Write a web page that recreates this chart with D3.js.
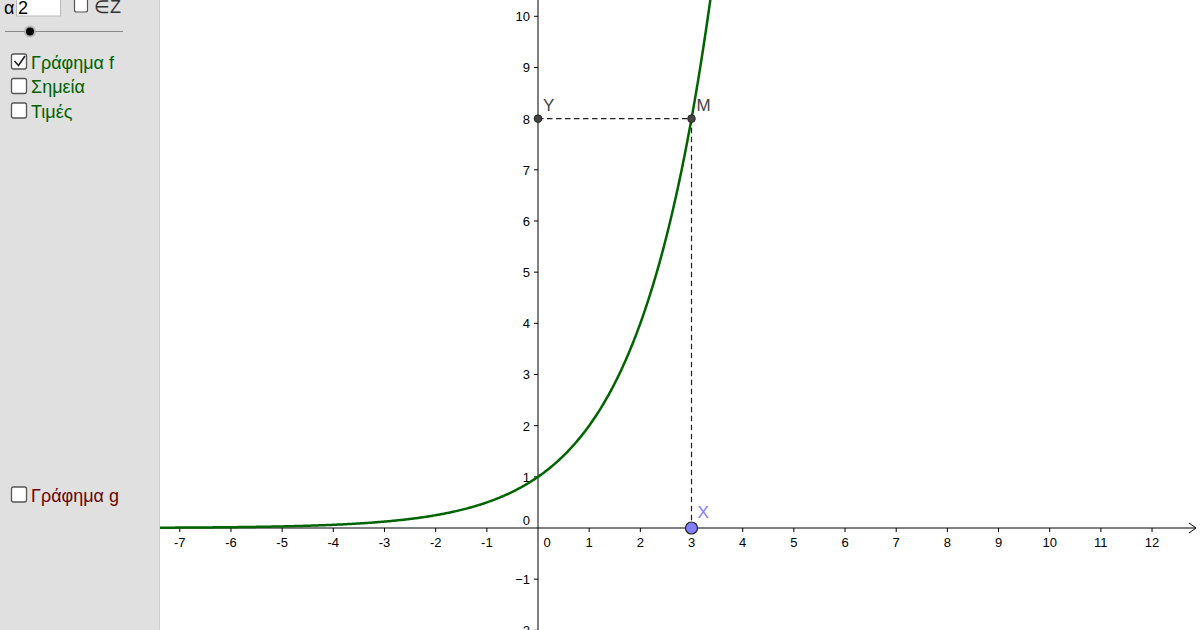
<!DOCTYPE html>
<html><head><meta charset="utf-8">
<script src="https://cdn.jsdelivr.net/npm/d3@7"></script>
<style>
html,body{margin:0;padding:0;background:#fff;}
svg{display:block;font-family:"Liberation Sans",Arial,sans-serif;}
</style></head>
<body>
<svg id="c" width="1200" height="630"></svg>
<script>
// ---- data ----
const alphaValue = 2;
const pointXValue = 3;
const xTicks = [-7,-6,-5,-4,-3,-2,-1,0,1,2,3,4,5,6,7,8,9,10,11,12];
const yTicks = [-2,-1,0,1,2,3,4,5,6,7,8,9,10];
const checkboxLabels = ["Γράφημα f","Σημεία","Τιμές"];
const checkboxChecked = [true,false,false];
const checkboxG = "Γράφημα g";
const curveSamplesX = d3.range(-7.6, 3.6, 0.02);

// ---- layout ----
const W = 1200, H = 630, panelW = 160;
const unit = 51.17;
const x0px = 538, y0px = 528;
const x = d3.scaleLinear().domain([0,1]).range([x0px, x0px+unit]);
const y = d3.scaleLinear().domain([0,1]).range([y0px, y0px-unit]);

const svg = d3.select("#c");
svg.append("rect").attr("width",W).attr("height",H).attr("fill","#fff");

const plot = svg.append("g");
plot.append("defs").append("clipPath").attr("id","clip")
  .append("rect").attr("x",panelW).attr("y",0).attr("width",W-panelW).attr("height",H);
const g = plot.append("g").attr("clip-path","url(#clip)");

// axes
g.append("line").attr("x1",panelW).attr("x2",1196).attr("y1",y0px).attr("y2",y0px)
  .attr("stroke","#000").attr("stroke-width",1);
g.append("path").attr("d",`M${1189},${y0px-5} L${1196},${y0px} L${1189},${y0px+5}`)
  .attr("fill","none").attr("stroke","#000").attr("stroke-width",1);
g.append("line").attr("x1",x0px).attr("x2",x0px).attr("y1",0).attr("y2",H)
  .attr("stroke","#000").attr("stroke-width",1);

// x ticks
xTicks.forEach(t=>{
  if(t!==0) g.append("line").attr("x1",x(t)).attr("x2",x(t)).attr("y1",y0px).attr("y2",y0px+4)
    .attr("stroke","#000");
  g.append("text").attr("x", t===0 ? x(t)+9 : x(t)).attr("y", y0px+19)
    .attr("text-anchor","middle").attr("font-size",13).attr("fill","#000")
    .text(t<0 ? "-"+Math.abs(t) : t);
});
// y ticks
yTicks.forEach(t=>{
  if(t!==0) g.append("line").attr("x1",x0px-4).attr("x2",x0px).attr("y1",y(t)).attr("y2",y(t))
    .attr("stroke","#000");
  g.append("text").attr("x", x0px-8).attr("y", t===0 ? y(t)-3 : y(t)+5)
    .attr("text-anchor","end").attr("font-size",13).attr("fill","#000")
    .text(t<0 ? "\u2212"+Math.abs(t) : t);
});

// curve
const line = d3.line().x(d=>x(d)).y(d=>y(Math.pow(alphaValue,d)));
g.append("path").datum(curveSamplesX).attr("d",line)
  .attr("fill","none").attr("stroke","#006400").attr("stroke-width",2.5);

// dashed guides
const mY = Math.pow(alphaValue, pointXValue);
g.append("line").attr("x1",x(0)).attr("x2",x(pointXValue)).attr("y1",y(mY)).attr("y2",y(mY))
  .attr("stroke","#222").attr("stroke-width",1.2).attr("stroke-dasharray","5.5,3.5");
g.append("line").attr("x1",x(pointXValue)).attr("x2",x(pointXValue)).attr("y1",y(mY)).attr("y2",y(0))
  .attr("stroke","#222").attr("stroke-width",1.2).attr("stroke-dasharray","5.5,3.5");

// points
[[0,mY,"Y"],[pointXValue,mY,"M"]].forEach(p=>{
  g.append("circle").attr("cx",x(p[0])).attr("cy",y(p[1])).attr("r",3.8)
    .attr("fill","#444").attr("stroke","#222").attr("stroke-width",1);
  g.append("text").attr("x",x(p[0])+5).attr("y",y(p[1])-8).attr("font-size",17)
    .attr("fill","#444").text(p[2]);
});
g.append("circle").attr("cx",x(pointXValue)).attr("cy",y(0)).attr("r",6)
  .attr("fill","#7f7fff").attr("stroke","#222").attr("stroke-width",1.2);
g.append("text").attr("x",x(pointXValue)+6).attr("y",y(0)-10).attr("font-size",17)
  .attr("fill","#7f7fff").text("X");

// ---- left panel ----
const p = svg.append("g");
p.append("rect").attr("x",0).attr("y",0).attr("width",panelW).attr("height",H).attr("fill","#e0e0e0");
p.append("line").attr("x1",panelW-0.5).attr("x2",panelW-0.5).attr("y1",0).attr("y2",H)
  .attr("stroke","#d0d0d0");
p.append("text").attr("x",4).attr("y",14).attr("font-size",18).attr("fill","#000").text("α");
p.append("rect").attr("x",16.5).attr("y",-3).attr("width",44).attr("height",19)
  .attr("fill","#fff").attr("stroke","#bbb");
p.append("text").attr("x",18).attr("y",14).attr("font-size",18).attr("fill","#000").text(alphaValue);
p.append("rect").attr("x",74.5).attr("y",-3).attr("width",13).attr("height",15).attr("rx",2)
  .attr("fill","#fff").attr("stroke","#555").attr("stroke-width",1.2);
p.append("text").attr("x",94).attr("y",13).attr("font-size",18).attr("fill","#333").text("∈Z");
// slider
p.append("line").attr("x1",5).attr("x2",123).attr("y1",31.5).attr("y2",31.5)
  .attr("stroke","#888").attr("stroke-width",1);
p.append("circle").attr("cx",30).attr("cy",31.5).attr("r",6).attr("fill","#aaa").attr("opacity",0.8);
p.append("circle").attr("cx",30).attr("cy",31.5).attr("r",4).attr("fill","#000");

function checkbox(cy, label, checked, color){
  p.append("rect").attr("x",11.5).attr("y",cy-8).attr("width",15).attr("height",15).attr("rx",2)
    .attr("fill","#fff").attr("stroke","#555").attr("stroke-width",1.3);
  if(checked) p.append("path").attr("d",`M${14.5},${cy-1} L${18.5},${cy+3.5} L${25},${cy-6}`)
    .attr("fill","none").attr("stroke","#222").attr("stroke-width",1.6);
  p.append("text").attr("x",31).attr("y",cy+6.5).attr("font-size",18).attr("fill",color).text(label);
}
checkboxLabels.forEach((l,i)=>checkbox(62+i*24.5, l, checkboxChecked[i], "#006000"));
checkbox(495, checkboxG, false, "#700000");
</script>
</body></html>
